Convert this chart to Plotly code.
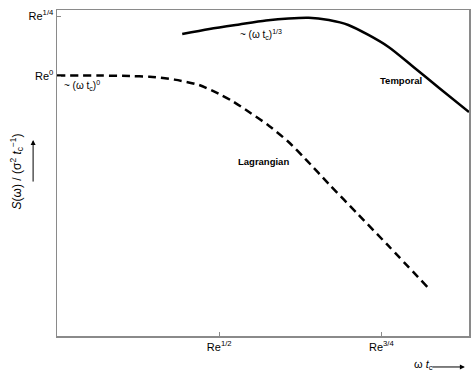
import plotly.graph_objects as go

# Coordinates are log_Re exponents (x: omega t_c, y: S(omega)/(sigma^2 t_c^-1))
lag_x = [0.25, 0.316, 0.362, 0.393, 0.431, 0.469, 0.50, 0.520, 0.546, 0.577,
         0.607, 0.633, 0.669, 0.715, 0.761, 0.821]
lag_y = [0.002, 0.002, 0.0, -0.003, -0.015, -0.0375, -0.075, -0.104, -0.15, -0.208,
         -0.275, -0.346, -0.45, -0.579, -0.708, -0.879]

tem_x = [0.443, 0.485, 0.531, 0.572, 0.607, 0.638, 0.669, 0.699, 0.730, 0.761,
         0.7975, 0.839, 0.885]
tem_y = [0.175, 0.196, 0.215, 0.231, 0.240, 0.243, 0.233, 0.2125, 0.171, 0.121,
         0.042, -0.05, -0.15]

x_tick_vals = [0.5, 0.75]
x_tick_text = ["Re<sup>1/2</sup>", "Re<sup>3/4</sup>"]
y_tick_vals = [0.0, 0.25]
y_tick_text = ["Re<sup>0</sup>", "Re<sup>1/4</sup>"]

FONT = "Liberation Sans, Arial, Helvetica, sans-serif"

fig = go.Figure()
fig.add_trace(go.Scatter(x=lag_x, y=lag_y, mode="lines", line_shape="spline",
                         line=dict(color="black", width=2.5, dash="8px,5px", smoothing=0.8),
                         showlegend=False, hoverinfo="skip"))
fig.add_trace(go.Scatter(x=tem_x, y=tem_y, mode="lines", line_shape="spline",
                         line=dict(color="black", width=2.5, smoothing=0.8),
                         showlegend=False, hoverinfo="skip"))

axis_common = dict(showgrid=False, zeroline=False, showline=True, linecolor="#8a8a8a",
                   linewidth=1.5, mirror=True, ticks="inside", ticklen=4,
                   tickcolor="#8a8a8a", tickfont=dict(size=11, color="black", family=FONT))

fig.update_xaxes(range=[0.25, 0.885], tickvals=x_tick_vals, ticktext=x_tick_text, **axis_common)
fig.update_yaxes(range=[-1.083, 0.275], tickvals=y_tick_vals, ticktext=y_tick_text, **axis_common)

ann = [
    dict(x=0.258, y=-0.04, text="~ (ω t<sub>c</sub>)<sup>0</sup>", xanchor="left", size=10),
    dict(x=0.565, y=0.175, text="~ (ω t<sub>c</sub>)<sup>1/3</sup>", xanchor="center", size=10),
    dict(x=0.780, y=-0.02, text="<b>Temporal</b>", xanchor="center", size=9.5),
    dict(x=0.569, y=-0.358, text="<b>Lagrangian</b>", xanchor="center", size=9.5),
]
for a in ann:
    sz = a.pop("size")
    fig.add_annotation(xref="x", yref="y", showarrow=False,
                       font=dict(size=sz, color="black", family=FONT), **a)

# axis titles with arrows
fig.add_annotation(xref="paper", yref="paper", x=0.89, y=-0.089, text="ω <i>t</i><sub>c</sub>",
                   showarrow=False, xanchor="center", yanchor="middle",
                   font=dict(size=11, color="black", family=FONT))
fig.add_annotation(xref="paper", yref="paper", x=0.99, y=-0.095, ax=-34, ay=0, text="",
                   showarrow=True, arrowhead=2, arrowsize=1, arrowwidth=1, arrowcolor="black")
fig.add_annotation(xref="paper", yref="paper", x=-0.097, y=0.505,
                   text="<i>S</i>(ω) / (σ<sup>2</sup> <i>t</i><sub>c</sub><sup>−1</sup>)",
                   textangle=-90, showarrow=False, xanchor="center", yanchor="middle",
                   font=dict(size=12, color="black", family=FONT))
fig.add_annotation(xref="paper", yref="paper", x=-0.058, y=0.601, ax=0, ay=43, text="",
                   showarrow=True, arrowhead=2, arrowsize=1, arrowwidth=1, arrowcolor="black")

fig.update_layout(width=474, height=379, margin=dict(l=57, r=3, t=10, b=43),
                  plot_bgcolor="white", paper_bgcolor="white",
                  font=dict(family=FONT, color="black"))

fig.write_html("out.html", config={"displayModeBar": False, "staticPlot": True},
               post_script="document.body.style.margin='0';document.body.style.overflow='hidden';")
